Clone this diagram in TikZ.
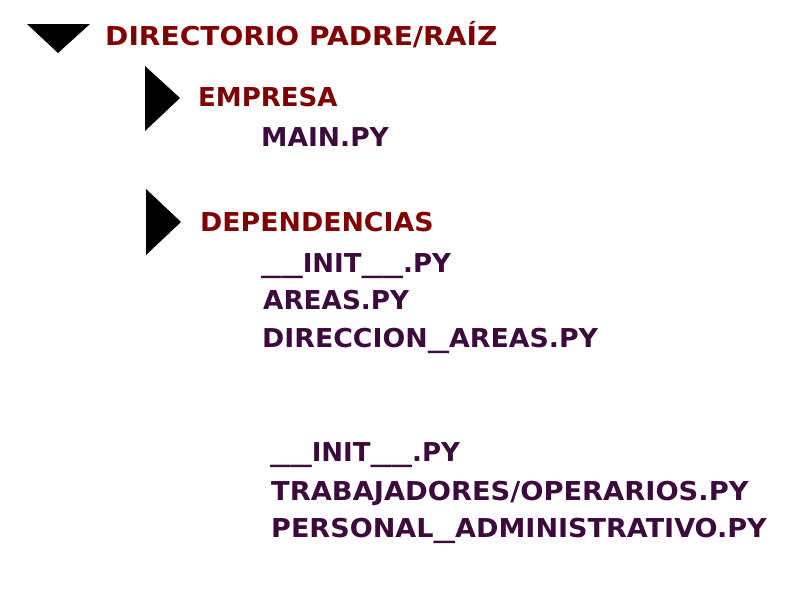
\documentclass[tikz,border=0pt]{standalone}
\usepackage{graphicx}
\usepackage{fontspec}
\setmainfont{DejaVu Sans}
\definecolor{dirred}{RGB}{128,0,0}
\definecolor{filepur}{RGB}{60,10,60}
\newcommand{\us}{\scalebox{1.6}[1]{\_}}
\newcommand{\wide}[2]{\scalebox{#1}[1]{#2}}
\begin{document}
\begin{tikzpicture}[x=1pt,y=-1pt,
  dirlabel/.style={anchor=base west,inner sep=0pt,text=dirred,font=\fontsize{26}{30}\selectfont\bfseries},
  filelabel/.style={anchor=base west,inner sep=0pt,text=filepur,font=\fontsize{26}{30}\selectfont\bfseries},
  tri/.style={fill=black,draw=none}]
\useasboundingbox (0,0) rectangle (800,598);
\fill[white] (0,0) rectangle (800,598);
% triangles
\fill[tri] (27,24) -- (90,24) -- (58,53) -- cycle;
\fill[tri] (145,66) -- (145,131) -- (180,98) -- cycle;
\fill[tri] (146,189) -- (146,255) -- (181,222) -- cycle;
% labels
\node[dirlabel] (root) at (105,45) {\wide{1.08}{DIRECTORIO PADRE/RAÍZ}};
\node[dirlabel] (emp) at (198,106) {EMPRESA};
\node[filelabel] (main) at (261,146) {\wide{1.02}{MAIN.PY}};
\node[dirlabel] (dep) at (200,231) {\wide{1.03}{DEPENDENCIAS}};
\node[filelabel] (init1) at (261,272) {\us\us INIT\us\us.PY};
\node[filelabel] (areas) at (263,309) {\wide{1.01}{AREAS.PY}};
\node[filelabel] (dir) at (262,347) {\wide{1.03}{DIRECCION\us AREAS.PY}};
\node[filelabel] (init2) at (270,461) {\us\us INIT\us\us.PY};
\node[filelabel] (trab) at (271,500) {\wide{1.05}{TRABAJADORES/OPERARIOS.PY}};
\node[filelabel] (pers) at (271,537) {\wide{1.04}{PERSONAL\us ADMINISTRATIVO.PY}};
\end{tikzpicture}
\end{document}
